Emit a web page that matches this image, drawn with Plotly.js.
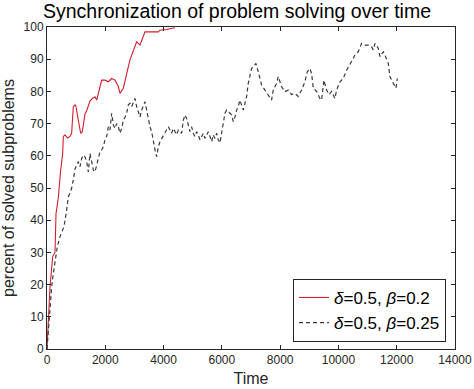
<!DOCTYPE html>
<html>
<head>
<meta charset="utf-8">
<script src="https://cdn.plot.ly/plotly-3.0.1.min.js"></script>
<style>html,body{margin:0;padding:0;background:#fff;}#chart{width:474px;height:389px;}</style>
</head>
<body>
<div id="chart"></div>
<script>
// Series 1: delta=0.5, beta=0.2 (red, solid)
const redX = [0,103,195,274,309,389,469,538,560,617,700,789,846,903,961,995,1075,1155,1212,1270,1304,1361,1475,1560,1647,1705,1819,1876,1990,2104,2219,2333,2448,2505,2619,2676,2791,2848,2962,3076,3191,3248,3363,3534,3820,3877,4106,4335,4390];
const redY = [0,19.3,28.7,30,42,47,55.6,60.7,66,66.5,65.5,66,67,75.3,75.8,75.3,71,67,67.5,71,73,74,77,77.8,78.3,77.3,81.5,83.5,83.5,83,84,83.5,81.5,79.4,81,83.5,87.7,89.8,92.9,95.4,94.4,96,98.5,98.5,98.5,99,99.2,99.7,99.7];

// Series 2: delta=0.5, beta=0.25 (dark grey, dashed)
const blkX = [0,80,160,217,274,355,446,503,583,675,732,789,846,903,961,1018,1075,1132,1190,1247,1304,1361,1418,1475,1533,1590,1647,1705,1762,1819,1876,1933,1990,2047,2104,2161,2219,2276,2333,2390,2448,2505,2562,2619,2676,2733,2791,2848,2905,2962,3019,3076,3191,3248,3305,3363,3420,3477,3534,3591,3648,3706,3763,3820,3877,3934,3991,4048,4106,4163,4220,4277,4335,4392,4449,4506,4563,4620,4677,4735,4792,4849,4906,4963,5020,5077,5135,5192,5249,5306,5363,5420,5478,5535,5592,5649,5706,5763,5820,5877,5935,5992,6049,6106,6163,6220,6277,6335,6392,6449,6506,6563,6620,6735,6849,6906,7020,7170,7249,7306,7363,7478,7592,7706,7763,7878,7935,8049,8164,8278,8393,8507,8621,8736,8850,8930,9022,9079,9136,9250,9365,9422,9501,9594,9685,9765,9880,9937,10051,10165,10280,10394,10485,10566,10680,10795,10909,11024,11138,11195,11253,11367,11424,11539,11596,11710,11767,11882,11975,12020];
const blkY = [0,11,19.3,23.5,27.6,31.8,34.9,36.4,38,43.2,47.3,48.4,50,52.5,56,57,58.2,56.6,59.2,60.2,59.7,58.2,55,60.7,58.2,55.6,55,57,59.2,61.3,61.8,62.8,65,66,69,68,73.2,69.6,68.5,70,69,67,68.5,71,72,73.2,75.8,76.3,75.3,76.8,77.8,75.3,72,74.2,75.3,76.8,74.2,71,69,67.5,64.4,61.8,59.7,62.8,64.4,65.4,66,67,68,69,68,67,68.5,67.5,66.5,68,67.5,67,71,72.7,71.6,69.6,67.5,69,67,66,67.5,66.5,65,66,67,65.4,66.5,67.5,66,64.4,66.5,65.4,67,65,64,67.5,71,73.2,74.2,73.7,73.2,72.7,70.6,72,74.2,75.3,77.3,74.2,78.4,82.5,87.1,88.7,86.1,83.5,82,80.4,79,77.3,80.4,82.5,84.6,81.5,79.9,80.4,79,79.4,78.4,80.4,83,86.1,87.1,85.6,81,80,77.8,77.3,83.5,80.4,79,80,77.8,80.4,83,84,86.6,88.2,89.8,91.3,92.3,94.9,94.4,94.4,93.9,92.9,94.9,93.4,90.8,92.3,91.3,88.7,84.6,82.5,81,84];

const xTicks = [0,2000,4000,6000,8000,10000,12000,14000];
const yTicks = [0,10,20,30,40,50,60,70,80,90,100];
const seriesNames = ['<i>δ</i>=0.5, <i>β</i>=0.2', '<i>δ</i>=0.5, <i>β</i>=0.25'];
const titleText = 'Synchronization of problem solving over time';
const xTitle = 'Time';
const yTitle = 'percent of solved subproblems';

const font = '"Liberation Sans", Arial, sans-serif';
const axisCommon = {
  showline: true, mirror: 'ticks', linecolor: '#262626', linewidth: 1,
  ticks: 'inside', ticklen: 4, tickcolor: '#262626', tickwidth: 1,
  showgrid: false, zeroline: false,
  tickfont: {family: font, size: 12, color: '#262626'}
};

const data = [
  {x: redX, y: redY, type: 'scatter', mode: 'lines', name: seriesNames[0],
   line: {color: '#cf1f2c', width: 1.1}},
  {x: blkX, y: blkY, type: 'scatter', mode: 'lines', name: seriesNames[1],
   line: {color: '#3a3a3a', width: 1.2, dash: '4px,3px'}}
];

const layout = {
  width: 474, height: 389,
  margin: {l: 47, r: 19, t: 27, b: 40},
  paper_bgcolor: '#fff', plot_bgcolor: '#fff',
  showlegend: true,
  title: {text: titleText, font: {family: font, size: 19.5, color: '#000'}, x: 0.5, xanchor: 'center', y: 0.99, yanchor: 'top'},
  xaxis: Object.assign({}, axisCommon, {range: [0, 14000], tickvals: xTicks, ticktext: xTicks.map(String),
    title: {text: xTitle, font: {family: font, size: 16, color: '#262626'}, standoff: 6}}),
  yaxis: Object.assign({}, axisCommon, {range: [0, 100], tickvals: yTicks, ticktext: yTicks.map(String),
    title: {text: yTitle, font: {family: font, size: 16, color: '#262626'}, standoff: 6}}),
  legend: {x: 0.978, y: 0.022, xanchor: 'right', yanchor: 'bottom',
    bgcolor: '#fff', bordercolor: '#262626', borderwidth: 1,
    font: {family: font, size: 17, color: '#000'}, tracegroupgap: 0}
};

Plotly.newPlot('chart', data, layout, {displayModeBar: false, staticPlot: true});
</script>
</body>
</html>
